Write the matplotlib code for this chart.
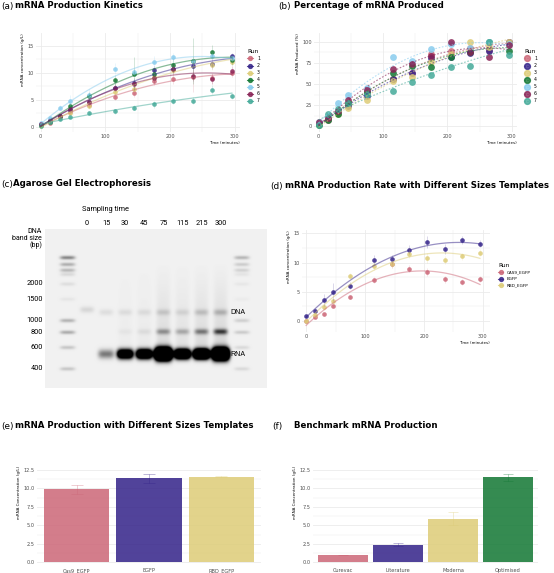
import numpy as np
import matplotlib
matplotlib.use('Agg')
import matplotlib.pyplot as plt
from matplotlib.lines import Line2D

W, H = 554, 573

# ---------------- data ----------------
times = [0, 15, 30, 45, 75, 115, 145, 175, 205, 235, 265, 295]
runs = ['1', '2', '3', '4', '5', '6', '7']
run_colors = ['#CC6677', '#332288', '#DDCC77', '#117733', '#88CCEE', '#882255', '#44AA99']

conc_r1 = [0.3, 0.8, 1.8, 2.8, 4.0, 5.6, 6.3, 8.6, 8.9, 9.2, 9.0, 10.0]
conc_r2 = [0.5, 1.2, 2.1, 3.2, 4.7, 7.3, 8.2, 10.6, 10.8, 11.3, 11.6, 13.1]
conc_r3 = [0.2, 1.0, 1.8, 2.6, 3.8, 6.5, 7.1, 9.3, 10.5, 12.2, 11.4, 12.1]
conc_r4 = [0.3, 1.0, 2.0, 3.9, 5.7, 8.7, 9.9, 9.8, 11.4, 12.2, 13.9, 12.4]
conc_r5 = [0.7, 1.6, 3.6, 4.9, 6.0, 10.8, 10.2, 12.1, 12.9, 12.2, 13.2, 12.8]
conc_r6 = [0.5, 1.1, 2.0, 3.3, 4.6, 7.3, 8.0, 9.0, 10.8, 9.5, 8.9, 10.4]
conc_r7 = [0.1, 1.0, 1.4, 1.9, 2.6, 2.9, 3.6, 4.2, 4.8, 4.9, 6.9, 5.8]

err_r1 = [0.1, 0.2, 0.3, 0.4, 0.5, 0.6, 0.8, 0.9, 1.0, 2.8, 1.0, 0.8]
err_r2 = [0.1, 0.2, 0.3, 0.4, 0.5, 0.6, 0.8, 0.6, 0.7, 0.8, 0.9, 0.6]
err_r3 = [0.1, 0.2, 0.3, 0.4, 0.5, 0.6, 0.7, 0.8, 0.8, 0.9, 0.8, 0.7]
err_r4 = [0.1, 0.3, 0.4, 0.6, 0.7, 0.9, 3.0, 1.0, 1.2, 4.3, 1.2, 1.0]
err_r5 = [0.2, 0.3, 0.5, 1.0, 1.1, 1.0, 0.8, 1.0, 0.8, 0.9, 0.7, 0.6]
err_r6 = [0.1, 0.2, 0.3, 0.4, 0.5, 0.6, 0.7, 0.8, 0.9, 1.0, 0.9, 0.8]
err_r7 = [0.1, 0.2, 0.3, 0.3, 0.4, 0.5, 0.5, 0.6, 0.6, 0.7, 0.8, 0.7]

conc_runs = [conc_r1, conc_r2, conc_r3, conc_r4, conc_r5, conc_r6, conc_r7]
err_runs = [err_r1, err_r2, err_r3, err_r4, err_r5, err_r6, err_r7]

# (d) templates
templates = ['CAS9_EGFP', 'EGFP', 'RBD_EGFP']
template_colors = ['#CC6677', '#332288', '#DDCC77']
conc_cas9 = [0.0, 0.6, 1.1, 2.6, 4.1, 7.0, 9.7, 8.9, 8.3, 7.1, 6.7, 7.1]
conc_egfp = [0.8, 1.7, 3.6, 4.9, 6.0, 10.4, 10.6, 12.2, 13.5, 12.3, 13.9, 13.2]
conc_rbd = [0.0, 0.9, 2.3, 3.3, 7.6, 9.4, 9.8, 11.5, 10.8, 10.5, 11.1, 11.7]
err_cas9 = [0.1, 0.2, 0.3, 0.3, 0.4, 0.5, 0.6, 0.6, 0.7, 0.6, 0.5, 0.5]
err_egfp = [0.2, 0.4, 1.0, 1.5, 0.6, 0.9, 0.7, 0.8, 1.0, 0.9, 0.7, 0.6]
err_rbd = [0.1, 0.3, 0.4, 0.5, 0.6, 0.7, 0.7, 0.8, 0.8, 0.7, 0.6, 0.6]

# (e) final yield per template
bar_e_labels = ['Cas9_EGFP', 'EGFP', 'RBD_EGFP']
bar_e_values = [9.9, 11.4, 11.6]
bar_e_err = [0.6, 0.6, 0.1]

# (f) benchmark
bar_f_labels = ['Curevac', 'Literature', 'Moderna', 'Optimised']
bar_f_values = [1.0, 2.4, 5.9, 11.5]
bar_f_err = [0.05, 0.25, 0.9, 0.5]
bar_f_colors = ['#CC6677', '#332288', '#DDCC77', '#117733']

# (c) gel
gel_lanes = ['0', '15', '30', '45', '75', '115', '215', '300']
ladder_bp = [3300, 2900, 2600, 2400, 2000, 1500, 1000, 800, 600, 400]
ladder_int = [0.45, 0.28, 0.24, 0.1, 0.08, 0.05, 0.26, 0.29, 0.18, 0.18]
ladder_labels = [2000, 1500, 1000, 800, 600, 400]
dna_bp = [1230, 1170, 1170, 1170, 1170, 1170, 1170, 1170]
dna_int = [0.11, 0.08, 0.08, 0.08, 0.14, 0.10, 0.17, 0.22]
mid_bp = 810
mid_int = [0.0, 0.0, 0.04, 0.07, 0.35, 0.26, 0.45, 0.7]
rna_bp = 530
rna_int = [0.0, 0.5, 2.2, 2.6, 5.0, 3.2, 4.0, 4.5]
smear_int = [0.0, 0.0, 0.02, 0.03, 0.10, 0.07, 0.10, 0.12]

GRID = '#ebebeb'
TXT = '#4d4d4d'


def px_axes(x0, y0, x1, y1):
    return fig.add_axes([x0 / W, 1 - y1 / H, (x1 - x0) / W, (y1 - y0) / H])


def style(ax, xlab, ylab):
    for s in ax.spines.values():
        s.set_visible(False)
    ax.tick_params(which='both', length=0, labelsize=3.6, labelcolor=TXT, pad=1.5)
    ax.grid(True, which='major', color=GRID, lw=0.6)
    ax.grid(True, which='minor', color=GRID, lw=0.35)
    ax.set_axisbelow(True)
    if xlab:
        ax.set_xlabel(xlab, fontsize=2.9, loc='right', labelpad=1.2)
    if ylab:
        ax.set_ylabel(ylab, fontsize=2.9, loc='top', labelpad=2)


def title(x_lab, x_bold, y, lab, text):
    fig.text(x_lab / W, 1 - y / H, lab, fontsize=6.4, va='center', ha='left')
    fig.text(x_bold / W, 1 - y / H, text, fontsize=6.2, fontweight='bold',
             va='center', ha='left')


fig = plt.figure(figsize=(W / 100, H / 100), dpi=100)
t = np.array(times)
tt = np.linspace(0, 295, 100)

# ---------------- (a) ----------------
ax = px_axes(36, 33, 240, 132)
for i, r in enumerate(runs):
    y = np.array(conc_runs[i])
    c = run_colors[i]
    ax.errorbar(t, y, yerr=err_runs[i], fmt='none', ecolor=c, elinewidth=0.5, alpha=0.25)
    p = np.polyfit(t, y, 2)
    ax.plot(tt, np.polyval(p, tt), color=c, lw=0.9, alpha=0.5)
    ax.scatter(t, y, s=11, color=c, alpha=0.85, lw=0)
ax.set_xlim(-7, 308)
ax.set_ylim(-0.93, 17.4)
ax.set_xticks([0, 100, 200, 300])
ax.set_xticks([50, 150, 250], minor=True)
ax.set_yticks([0, 5, 10, 15])
ax.set_yticks([2.5, 7.5, 12.5], minor=True)
style(ax, 'Time (minutes)', 'mRNA concentration (g/L)')
h = [Line2D([], [], color=c, marker='o', ms=2.8, lw=0.8, alpha=0.8) for c in run_colors]
ax.legend(h, runs, loc='upper left', bbox_to_anchor=(247 / W, 1 - 49 / H),
          bbox_transform=fig.transFigure, frameon=False, fontsize=3.3, title='Run',
          title_fontsize=4.2, alignment='left', handlelength=1.2, handletextpad=1.0,
          labelspacing=0.45, borderpad=0, borderaxespad=0)
title(1, 15, 6, '(a)', 'mRNA Production Kinetics')

# ---------------- (b) ----------------
ax = px_axes(314, 33, 517, 132)
for i, r in enumerate(runs):
    y = np.array(conc_runs[i])
    pct = y / y.max() * 100
    c = run_colors[i]
    p = np.polyfit(t, pct, 2)
    ax.plot(tt, np.polyval(p, tt), color=c, lw=0.8, alpha=0.6, ls=(0, (1.5, 1.5)))
    ax.scatter(t, pct, s=24, color=c, alpha=0.85, lw=0)
ax.set_xlim(-7, 308)
ax.set_ylim(-6.7, 110.3)
ax.set_xticks([0, 100, 200, 300])
ax.set_xticks([50, 150, 250], minor=True)
ax.set_yticks([0, 25, 50, 75, 100])
ax.set_yticks([12.5, 37.5, 62.5, 87.5], minor=True)
style(ax, 'Time (minutes)', 'mRNA Produced (%)')
h = [Line2D([], [], color=c, marker='o', ms=4.2, lw=0.8, ls=':', alpha=0.8) for c in run_colors]
ax.legend(h, runs, loc='upper left', bbox_to_anchor=(524 / W, 1 - 49 / H),
          bbox_transform=fig.transFigure, frameon=False, fontsize=3.3, title='Run',
          title_fontsize=4.2, alignment='left', handlelength=1.2, handletextpad=1.0,
          labelspacing=0.45, borderpad=0, borderaxespad=0)
title(278, 294, 6, '(b)', 'Percentage of mRNA Produced')

# ---------------- (c) gel ----------------
gx0, gx1, gy0, gy1 = 45, 267, 229, 388
gax = px_axes(gx0, gy0, gx1, gy1)
gax.set_axis_off()
xs = np.linspace(gx0, gx1, (gx1 - gx0) * 3)
ys = np.linspace(gy0, gy1, (gy1 - gy0) * 3)
X, Y = np.meshgrid(xs, ys)


def bp_y(bp):
    return 284 + 121.6 * (np.log10(2000) - np.log10(bp))


def band(xc, yc, hw, sig):
    return np.exp(-((X - xc) / hw) ** 4) * np.exp(-0.5 * ((Y - yc) / sig) ** 2)


dark = np.zeros_like(X)
for xc, k in [(67.5, 1.0), (242, 0.55)]:
    for bp, it in zip(ladder_bp, ladder_int):
        dark += k * it * band(xc, bp_y(bp), 7.5, 1.3)
lane_x = [87 + 19.1 * i for i in range(len(gel_lanes))]
for i, xc in enumerate(lane_x):
    dark += dna_int[i] * band(xc, bp_y(dna_bp[i]), 7, 2.2)
    dark += mid_int[i] * band(xc, bp_y(mid_bp), 7, 2.0)
    big = rna_int[i] > 4.2
    dark += rna_int[i] * band(xc, bp_y(rna_bp), 8.5 if big else 8, 4.0 if big else 3.2)
    yr = bp_y(rna_bp)
    ramp = np.clip((Y - 262) / (yr - 262), 0, 1) * (Y < yr)
    dark += smear_int[i] * ramp * np.exp(-((X - xc) / 7) ** 4)
img = 0.945 * (1 - np.clip(dark, 0, 1))
gax.imshow(img, cmap='gray', vmin=0, vmax=1, extent=(gx0, gx1, gy1, gy0),
           aspect='auto', interpolation='bilinear')
gax.set_xlim(gx0, gx1)
gax.set_ylim(gy1, gy0)

gel_font = ['Liberation Sans Narrow', 'Roboto', 'DejaVu Sans']
fig.text(82 / W, 1 - 209 / H, 'Sampling time', fontsize=5.3, family=gel_font, va='center')
for xc, lab in zip(lane_x, gel_lanes):
    fig.text(xc / W, 1 - 223 / H, lab, fontsize=5.3, family=gel_font, ha='center', va='center')
fig.text(42 / W, 1 - 228 / H, 'DNA\nband size\n(bp)', fontsize=5.0, family=gel_font,
         ha='right', va='top', multialignment='right', linespacing=0.9)
for bp in ladder_labels:
    fig.text(43 / W, 1 - bp_y(bp) / H, str(bp), fontsize=5.3, family=gel_font,
             ha='right', va='center')
fig.text(230 / W, 1 - bp_y(dna_bp[-1]) / H, 'DNA', fontsize=5.0, family='Liberation Sans',
         ha='left', va='center')
fig.text(230 / W, 1 - bp_y(rna_bp) / H, 'RNA', fontsize=5.0, family='Liberation Sans',
         ha='left', va='center')
title(1, 13, 184, '(c)', 'Agarose Gel Electrophoresis')

# ---------------- (d) ----------------
ax = px_axes(302, 230, 490, 332)
for y, e, c in zip([conc_cas9, conc_egfp, conc_rbd], [err_cas9, err_egfp, err_rbd], template_colors):
    y = np.array(y)
    ax.errorbar(t, y, yerr=e, fmt='none', ecolor=c, elinewidth=0.5, alpha=0.25)
    p = np.polyfit(t, y, 2)
    ax.plot(tt, np.polyval(p, tt), color=c, lw=0.9, alpha=0.5)
    ax.scatter(t, y, s=11, color=c, alpha=0.85, lw=0)
ax.set_xlim(-7, 312)
ax.set_ylim(-1.95, 15.6)
ax.set_xticks([0, 100, 200, 300])
ax.set_xticks([50, 150, 250], minor=True)
ax.set_yticks([0, 5, 10, 15])
ax.set_yticks([2.5, 7.5, 12.5], minor=True)
style(ax, 'Time (minutes)', 'mRNA concentration (g/L)')
h = [Line2D([], [], color=c, marker='o', ms=2.8, lw=0.8, alpha=0.8) for c in template_colors]
ax.legend(h, templates, loc='upper left', bbox_to_anchor=(498 / W, 1 - 263 / H),
          bbox_transform=fig.transFigure, frameon=False, fontsize=3.0, title='Run',
          title_fontsize=4.2, alignment='left', handlelength=1.2, handletextpad=0.8,
          labelspacing=0.6, borderpad=0, borderaxespad=0)
title(270, 285, 186, '(d)', 'mRNA Production Rate with Different Sizes Templates')

# ---------------- (e) ----------------
ax = px_axes(37, 466, 261, 566)
xe = np.arange(len(bar_e_labels))
ax.bar(xe, bar_e_values, width=0.9, color=template_colors, alpha=0.85, zorder=2)
for xi, v, e, c in zip(xe, bar_e_values, bar_e_err, template_colors):
    ax.errorbar(xi, v, yerr=e, fmt='none', ecolor=c, elinewidth=0.5, capsize=4.5,
                capthick=0.5, alpha=0.45, zorder=3)
ax.set_xlim(-0.55, 2.55)
ax.set_ylim(-0.5, 13.04)
ax.set_xticks(xe)
ax.set_xticklabels(bar_e_labels)
ax.set_yticks([0, 2.5, 5, 7.5, 10, 12.5])
ax.set_yticklabels(['0.0', '2.5', '5.0', '7.5', '10.0', '12.5'])
ax.set_yticks([1.25, 3.75, 6.25, 8.75, 11.25], minor=True)
style(ax, None, 'mRNA Concentration (g/L)')
ax.grid(False, axis='x', which='both')
title(1, 15, 426, '(e)', 'mRNA Production with Different Sizes Templates')

# ---------------- (f) ----------------
ax = px_axes(313, 466, 538, 566)
xf = np.arange(len(bar_f_labels))
ax.bar(xf, bar_f_values, width=0.9, color=bar_f_colors, alpha=0.85, zorder=2)
for xi, v, e, c in zip(xf, bar_f_values, bar_f_err, bar_f_colors):
    ax.errorbar(xi, v, yerr=e, fmt='none', ecolor=c, elinewidth=0.5, capsize=3.5,
                capthick=0.5, alpha=0.45, zorder=3)
ax.set_xlim(-0.55, 3.55)
ax.set_ylim(-0.5, 13.04)
ax.set_xticks(xf)
ax.set_xticklabels(bar_f_labels)
ax.set_yticks([0, 2.5, 5, 7.5, 10, 12.5])
ax.set_yticklabels(['0.0', '2.5', '5.0', '7.5', '10.0', '12.5'])
ax.set_yticks([1.25, 3.75, 6.25, 8.75, 11.25], minor=True)
style(ax, None, 'mRNA Concentration (g/L)')
ax.grid(False, axis='x', which='both')
title(272, 294, 426, '(f)', 'Benchmark mRNA Production')

fig.savefig('out.png', dpi=100)
